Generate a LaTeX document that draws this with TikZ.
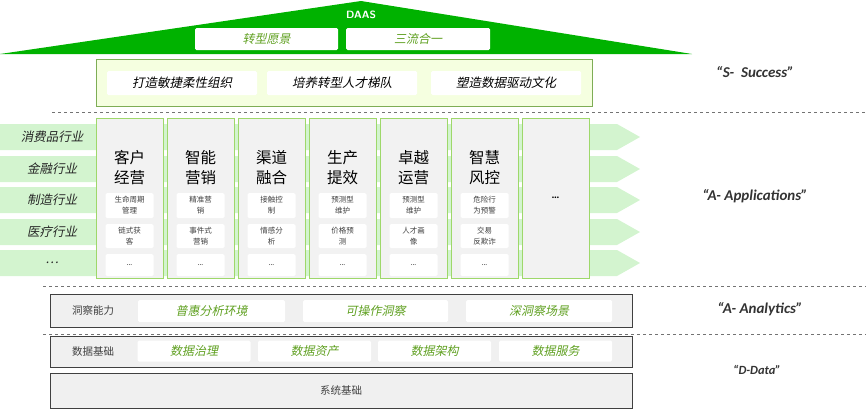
\documentclass[tikz,border=0pt]{standalone}
\usepackage{fontspec}
\setmainfont{Carlito}
\newfontfamily\cjk{Noto Sans CJK SC}
\newfontfamily\cjki[FakeSlant=0.2]{Noto Sans CJK SC}
\definecolor{roofg}{HTML}{00B200}
\definecolor{olive}{HTML}{5FA020}
\definecolor{lgreen}{HTML}{D3F4CF}
\definecolor{cborder}{HTML}{9ED86A}
\begin{document}
\begin{tikzpicture}[x=1pt,y=-1pt,
 wbox/.style={draw=none,fill=white,rounded corners=1.5pt,inner sep=0},
 colbox/.style={draw=cborder,line width=1pt,fill=black!5},
 grayband/.style={draw=black!75,line width=0.8pt,fill=black!6},
 dline/.style={dashed,draw=black!55,line width=0.6pt},
 sidelab/.style={font=\fontsize{15}{17}\selectfont\bfseries\itshape,text=black!80},
 gtxt/.style={font=\cjki\fontsize{12}{14}\selectfont,text=olive},
 ind/.style={font=\cjki\fontsize{12.5}{14}\selectfont,text=black!85}]
\useasboundingbox (0,0) rectangle (866,408);
% roof
\fill[roofg] (0,54) -- (361,1) -- (692,54) -- cycle;
\node[font=\sffamily\bfseries\fontsize{10.5}{12}\selectfont,text=white] (daas) at (361,15) {DAAS};
\node[wbox,minimum width=143,minimum height=22,gtxt] (v1) at (266.5,39) {转型愿景};
\node[wbox,minimum width=144,minimum height=22,gtxt] (v2) at (418,39) {三流合一};
% success
\node[draw=cborder!80!black,line width=1pt,fill=green!10!lime!12!white,minimum width=496,minimum height=47,inner sep=0] (succ) at (344,82.5) {};
\foreach \cx/\t in {182/打造敏捷柔性组织,342/培养转型人才梯队,506/塑造数据驱动文化}
  \node[wbox,minimum width=150,minimum height=24,font=\cjki\fontsize{12.5}{14}\selectfont] at (\cx,83) {\t};
\node[sidelab] (s) at (755,72) {“S-\ \ Success”};
\draw[dline] (52,112) -- (866,112);
% industry arrows
\foreach \y/\t in {137/消费品行业,169/金融行业,200/制造行业,232/医疗行业,263/{\ldots}}{
  \fill[lgreen] (0,\y-13) -- (617,\y-13) -- (640,\y) -- (617,\y+13) -- (0,\y+13) -- cycle;
  \node[ind,anchor=center] at (52,\y) {\t};
}
% columns
\foreach \i/\ta/\tb/\sa/\sb in {0/客户/经营/{生命周期\\管理}/{链式获\\客},1/智能/营销/{精准营\\销}/{事件式\\营销},2/渠道/融合/{接触控\\制}/{情感分\\析},3/生产/提效/{预测型\\维护}/{价格预\\测},4/卓越/运营/{预测型\\维护}/{人才画\\像},5/智慧/风控/{危险行\\为预警}/{交易\\反欺诈}}{
  \pgfmathsetmacro\cx{129.5+71*\i}
  \node[colbox,minimum width=67,minimum height=160,inner sep=0] (c\i) at (\cx,198) {};
  \node[font=\cjk\fontsize{15.5}{20}\selectfont,align=center] at (\cx,168) {\ta\\\tb};
  \node[wbox,minimum width=48,minimum height=25,font=\cjk\fontsize{7.5}{11}\selectfont,align=center,text=black!75] at (\cx,205.5) {\sa};
  \node[wbox,minimum width=48,minimum height=24,font=\cjk\fontsize{7.5}{11}\selectfont,align=center,text=black!75] at (\cx,236) {\sb};
  \node[wbox,minimum width=48,minimum height=22,font=\fontsize{7}{9}\selectfont] at (\cx,265) {\ldots};
}
\node[colbox,minimum width=67,minimum height=160,inner sep=0,font=\bfseries\fontsize{11}{12}\selectfont] (c6) at (555.5,198) {\ldots};
\node[sidelab] (a1) at (755,196) {“A- Applications”};
\draw[dline] (43,286) -- (866,286);
% analytics
\node[grayband,minimum width=582,minimum height=33,inner sep=0] (an) at (341,310.5) {};
\node[font=\cjk\fontsize{10.5}{12}\selectfont,text=black!75] at (93,311) {洞察能力};
\foreach \cx/\w/\t in {211.5/147/普惠分析环境,375.5/145/可操作洞察,539/146/深洞察场景}
  \node[wbox,minimum width=\w,minimum height=22,gtxt] at (\cx,311) {\t};
\node[sidelab] (a2) at (760,309) {“A- Analytics”};
\draw[dline] (43,334) -- (866,334);
% data
\node[grayband,minimum width=582,minimum height=31,inner sep=0] (da) at (341,351.5) {};
\node[font=\cjk\fontsize{10.5}{12}\selectfont,text=black!75] at (93,352) {数据基础};
\foreach \cx/\t in {194/数据治理,314.5/数据资产,434.5/数据架构,555.5/数据服务}
  \node[wbox,minimum width=113,minimum height=21,gtxt] at (\cx,351) {\t};
\node[grayband,minimum width=582,minimum height=35,inner sep=0,font=\cjk\fontsize{10.5}{12}\selectfont,text=black!75] (sys) at (341,390.5) {系统基础};
\node[sidelab,font=\fontsize{12.5}{14}\selectfont\bfseries\itshape] (d) at (757,370) {“D-Data”};
\end{tikzpicture}
\end{document}
